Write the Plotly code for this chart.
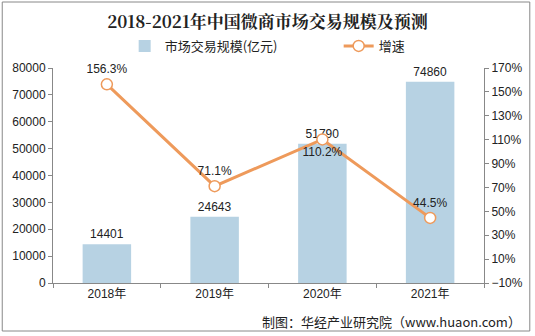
import plotly.graph_objects as go

years = ["2018年", "2019年", "2020年", "2021年"]
scale = [14401, 24643, 51790, 74860]          # 市场交易规模（亿元）
growth = [156.3, 71.1, 110.2, 44.5]           # 增速（%）
growth_pos = ["top center", "top center", "bottom center", "top center"]

W, H = 535, 336
ml, mr, mt, mb = 53, 49, 68, 53
pw, ph = W - ml - mr, H - mt - mb

bar_color = "#B7D2E3"
line_color = "#EE9A5B"
font_main = "Liberation Sans, Arial, Noto Sans CJK SC, sans-serif"
font_cjk = "Noto Sans CJK SC, sans-serif"

fig = go.Figure()
fig.add_trace(go.Bar(
    x=years, y=scale, name="市场交易规模(亿元)",
    marker=dict(color=bar_color, line=dict(width=0)),
    text=[str(v) for v in scale], textposition="outside",
    textfont=dict(size=12, color="#222"), cliponaxis=False,
    yaxis="y", legend="legend",
))
fig.add_trace(go.Scatter(
    x=years, y=growth, name="增速", mode="lines+markers+text",
    line=dict(color=line_color, width=3),
    marker=dict(size=11, color="white", line=dict(color=line_color, width=1.5)),
    text=[f"{v}%" for v in growth], textposition=growth_pos,
    textfont=dict(size=12, color="#222"), cliponaxis=False,
    yaxis="y2", legend="legend2",
))

legend_common = dict(
    orientation="h", y=1 + 22 / ph, yanchor="middle", xanchor="left",
    font=dict(size=13, color="#222", family=font_cjk),
    bgcolor="rgba(0,0,0,0)",
)

fig.update_layout(
    width=W, height=H,
    margin=dict(l=ml, r=mr, t=mt, b=mb),
    paper_bgcolor="white", plot_bgcolor="white",
    font=dict(family=font_main, size=12, color="#333"),
    title=dict(
        text="<b>2018-2021年中国微商市场交易规模及预测</b>",
        x=0.5, xanchor="center", y=1 - 22 / H, yanchor="middle",
        font=dict(family="Noto Serif CJK SC, Noto Sans CJK SC, serif", size=17, color="#222"),
    ),
    legend=dict(x=(125 - ml) / pw, **legend_common),
    legend2=dict(x=(340 - ml) / pw, **legend_common),
    bargap=0.55,
    showlegend=True,
    xaxis=dict(
        type="category", showline=True, linecolor="#888", linewidth=1,
        ticks="outside", tickson="boundaries", ticklen=4, tickcolor="#888",
        tickfont=dict(size=12, color="#222"), showgrid=False,
    ),
    yaxis=dict(
        range=[0, 80000], dtick=10000, showline=True, linecolor="#888",
        ticks="outside", ticklen=4, tickcolor="#888", showgrid=False,
        zeroline=False, tickfont=dict(size=12, color="#222"), tickformat="d",
    ),
    yaxis2=dict(
        range=[-10, 170], tick0=-10, dtick=20, overlaying="y", side="right",
        showline=True, linecolor="#888", ticks="outside", ticklen=4,
        tickcolor="#888", showgrid=False, zeroline=False,
        ticksuffix="%", tickfont=dict(size=12, color="#222"),
    ),
)

# outer frame of the chart
fig.add_shape(
    type="rect", xref="paper", yref="paper",
    x0=(2 - ml) / pw, x1=(532 - ml) / pw,
    y0=(H - mb - 331) / ph, y1=(H - mb - 2) / ph,
    line=dict(color="#888", width=1), fillcolor="rgba(0,0,0,0)", layer="below",
)

fig.add_annotation(
    text="制图：华经产业研究院（www.huaon.com）",
    xref="paper", yref="paper", x=(525 - ml) / pw, y=(H - mb - 321) / ph,
    xanchor="right", yanchor="middle", showarrow=False,
    font=dict(size=13, color="#222", family=font_cjk),
)

fig.write_html("out.html")
